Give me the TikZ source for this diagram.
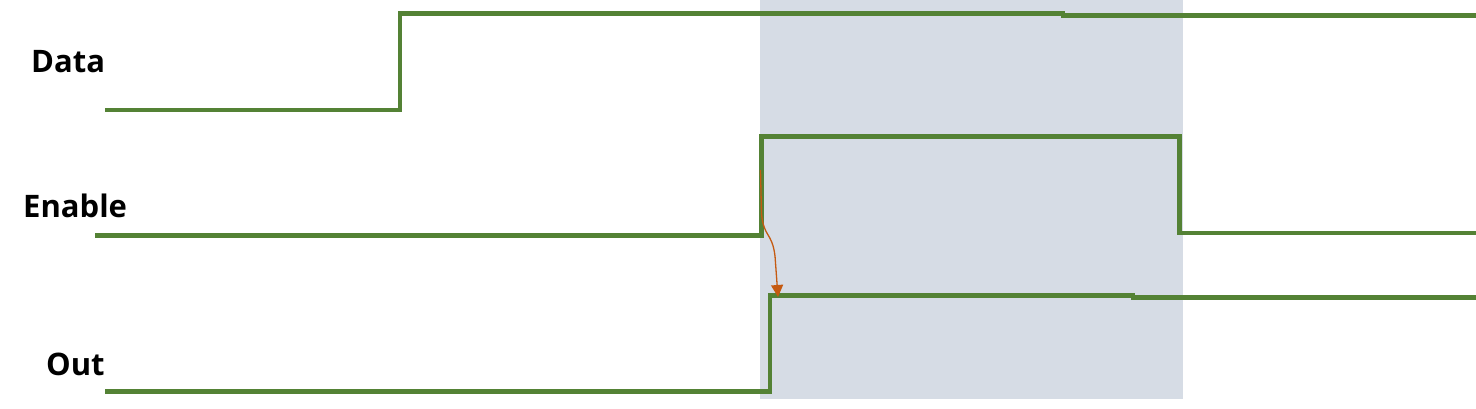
\documentclass[tikz,border=0pt]{standalone}
\usepackage{fontspec}
\setmainfont{Open Sans}
\usetikzlibrary{arrows.meta}
\definecolor{wavegreen}{HTML}{548235}
\definecolor{bandgray}{HTML}{D6DCE5}
\definecolor{arrorange}{HTML}{C55A11}
\tikzset{
  wave/.style={draw=wavegreen, line width=4.8pt, line join=miter, line cap=butt},
  siglabel/.style={anchor=base west, inner sep=0pt, font=\bfseries\fontsize{31}{31}\selectfont},
  causal/.style={draw=arrorange, line width=1.3pt, -{Triangle[length=12pt,width=12pt]}}
}
\begin{document}
\begin{tikzpicture}[x=1pt,y=-1pt]
\useasboundingbox (0,0) rectangle (1476,409);
\fill[fill=bandgray] (760,0) rectangle (1183,399);
% labels
\node[siglabel] (ldata) at (31,73) {Data};
\node[siglabel] (lenable) at (23,217) {Enable};
\node[siglabel] (lout) at (46,375) {Out};
% Data waveform
\coordinate (d0) at (105,110);
\coordinate (d1) at (400,110);
\coordinate (d2) at (400,13.5);
\coordinate (d3) at (1063,13.5);
\coordinate (d4) at (1063,15.5);
\coordinate (d5) at (1476,15.5);
\draw[wave] (d0) -- (d1) -- (d2) -- (d3) -- (d4) -- (d5);
% Enable waveform
\coordinate (e0) at (95,235.5);
\coordinate (e1) at (761.5,235.5);
\coordinate (e2) at (761.5,136.5);
\coordinate (e3) at (1179.5,136.5);
\coordinate (e4) at (1179.5,233);
\coordinate (e5) at (1476,233);
\draw[wave] (e0) -- (e1) -- (e2) -- (e3) -- (e4) -- (e5);
% Out waveform
\coordinate (o0) at (105,391.5);
\coordinate (o1) at (770,391.5);
\coordinate (o2) at (770,295.5);
\coordinate (o3) at (1133,295.5);
\coordinate (o4) at (1133,297.5);
\coordinate (o5) at (1476,297.5);
\draw[wave] (o0) -- (o1) -- (o2) -- (o3) -- (o4) -- (o5);
% causal arrow
\coordinate (a0) at (760.5,170);
\coordinate (a1) at (761.5,214);
\coordinate (a2) at (775,256);
\coordinate (a3) at (778,297);
\draw[causal] (a0) -- (a1) .. controls (764,238) and (772,232) .. (a2) -- (a3);
\end{tikzpicture}
\end{document}
